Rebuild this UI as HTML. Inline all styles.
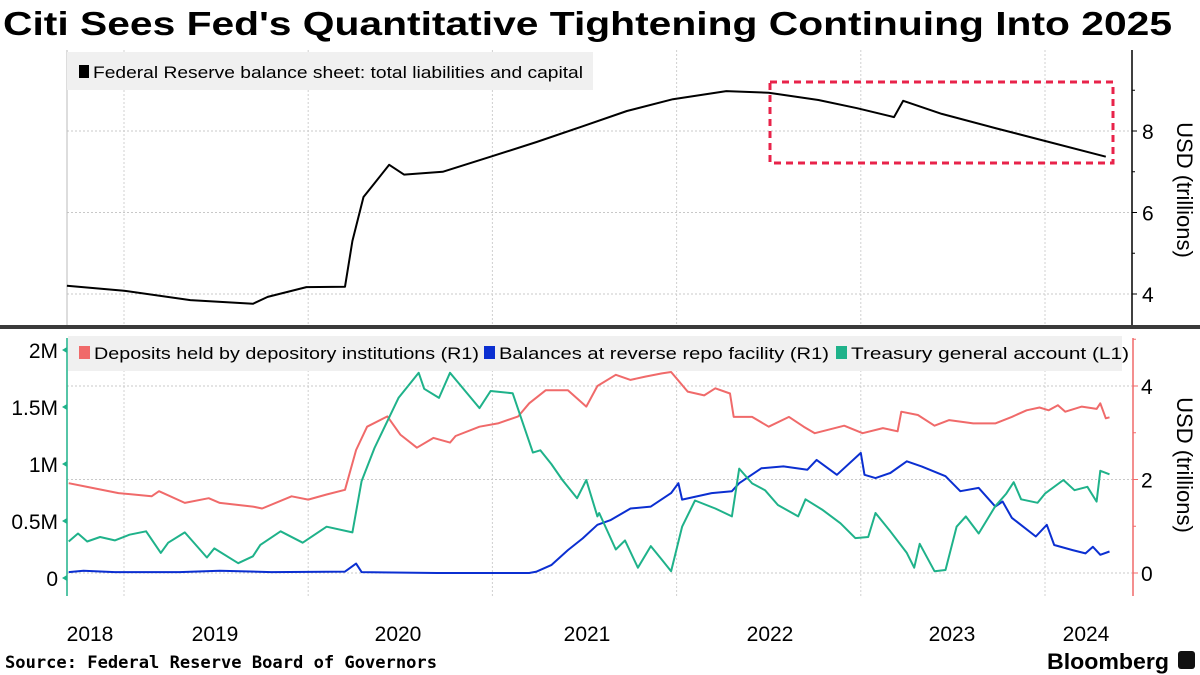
<!DOCTYPE html>
<html><head><meta charset="utf-8"><style>
html,body{margin:0;padding:0;background:#fff;}
svg{display:block;font-family:"Liberation Sans","DejaVu Sans",sans-serif;}
</style></head><body>
<svg id="chart" width="1200" height="675" viewBox="0 0 1200 675" xmlns="http://www.w3.org/2000/svg">
<rect x="0" y="0" width="1200" height="675" fill="#fff"/>
<text x="3" y="35" font-size="33" font-weight="bold" textLength="1169" lengthAdjust="spacingAndGlyphs">Citi Sees Fed's Quantitative Tightening Continuing Into 2025</text>
<g id="topPanel"></g>
<g id="botPanel"></g>
<rect x="0" y="325" width="1200" height="4" fill="#3a3a3a"/>
<text x="5" y="668" font-size="17" font-weight="bold" font-family="DejaVu Sans Mono, Liberation Mono, monospace" textLength="432" lengthAdjust="spacingAndGlyphs">Source: Federal Reserve Board of Governors</text>
<text x="1047" y="669" font-size="22" font-weight="bold" textLength="122" lengthAdjust="spacingAndGlyphs">Bloomberg</text>
<rect x="1178" y="651" width="17" height="18" rx="3" fill="#111"/>
</svg>
<script>
// ---- data ----
const balT = [2018.69,2019.0,2019.36,2019.7,2019.78,2019.99,2020.2,2020.24,2020.3,2020.36,2020.44,2020.52,2020.73,2020.99,2021.24,2021.48,2021.73,2021.98,2022.27,2022.5,2022.77,2022.98,2023.18,2023.23,2023.44,2023.73,2023.98,2024.33];
const balV = [4.2,4.08,3.85,3.76,3.93,4.17,4.18,5.3,6.38,6.72,7.17,6.93,7.0,7.37,7.73,8.1,8.49,8.78,8.98,8.94,8.76,8.56,8.34,8.74,8.42,8.07,7.78,7.37];

const tgaT = [2018.70,2018.75,2018.8,2018.87,2018.95,2019.03,2019.12,2019.2,2019.24,2019.33,2019.45,2019.49,2019.62,2019.7,2019.74,2019.85,2019.97,2020.1,2020.24,2020.29,2020.36,2020.49,2020.6,2020.63,2020.71,2020.77,2020.93,2020.99,2021.11,2021.22,2021.26,2021.32,2021.38,2021.46,2021.51,2021.57,2021.58,2021.67,2021.72,2021.79,2021.86,2021.92,2021.97,2022.03,2022.1,2022.21,2022.3,2022.34,2022.41,2022.48,2022.55,2022.66,2022.7,2022.79,2022.89,2022.97,2023.04,2023.08,2023.16,2023.25,2023.29,2023.32,2023.4,2023.46,2023.52,2023.57,2023.64,2023.73,2023.79,2023.83,2023.87,2023.96,2024.0,2024.1,2024.16,2024.23,2024.28,2024.3,2024.35];
const tgaV = [0.32,0.39,0.32,0.36,0.33,0.38,0.41,0.22,0.31,0.4,0.18,0.26,0.13,0.19,0.29,0.41,0.31,0.45,0.4,0.85,1.14,1.58,1.8,1.66,1.58,1.8,1.49,1.64,1.62,1.1,1.12,1.0,0.86,0.7,0.86,0.54,0.57,0.25,0.33,0.09,0.28,0.16,0.06,0.45,0.68,0.61,0.54,0.96,0.83,0.77,0.64,0.54,0.69,0.6,0.48,0.35,0.36,0.57,0.41,0.22,0.09,0.3,0.06,0.07,0.45,0.54,0.39,0.63,0.74,0.84,0.69,0.66,0.74,0.86,0.77,0.8,0.67,0.94,0.91];

const depT = [2018.70,2018.79,2018.97,2019.15,2019.19,2019.33,2019.46,2019.52,2019.7,2019.75,2019.91,2020.0,2020.1,2020.2,2020.26,2020.32,2020.43,2020.5,2020.59,2020.68,2020.77,2020.8,2020.93,2021.03,2021.14,2021.2,2021.29,2021.41,2021.51,2021.57,2021.67,2021.75,2021.83,2021.92,2021.97,2022.06,2022.15,2022.21,2022.29,2022.31,2022.41,2022.5,2022.61,2022.69,2022.75,2022.91,2023.01,2023.12,2023.2,2023.22,2023.31,2023.4,2023.48,2023.61,2023.73,2023.82,2023.9,2023.97,2024.02,2024.07,2024.11,2024.2,2024.28,2024.3,2024.33,2024.35];
const depV = [1.92,1.85,1.71,1.64,1.75,1.5,1.6,1.5,1.42,1.38,1.64,1.57,1.68,1.78,2.63,3.13,3.35,2.96,2.68,2.89,2.79,2.93,3.13,3.2,3.35,3.63,3.91,3.91,3.56,4.0,4.24,4.13,4.2,4.27,4.3,3.88,3.8,3.95,3.84,3.34,3.34,3.13,3.34,3.13,2.99,3.15,2.99,3.1,3.03,3.45,3.38,3.15,3.27,3.2,3.2,3.34,3.48,3.54,3.48,3.59,3.45,3.56,3.51,3.63,3.31,3.33];

const rrpT = [2018.70,2018.78,2018.95,2019.3,2019.52,2019.8,2020.2,2020.26,2020.29,2020.7,2021.2,2021.24,2021.32,2021.41,2021.49,2021.57,2021.64,2021.75,2021.86,2021.97,2022.01,2022.03,2022.19,2022.3,2022.34,2022.46,2022.58,2022.71,2022.76,2022.87,2023.0,2023.02,2023.08,2023.16,2023.25,2023.33,2023.46,2023.54,2023.64,2023.73,2023.77,2023.82,2023.95,2024.01,2024.05,2024.15,2024.22,2024.26,2024.3,2024.35];
const rrpV = [0.02,0.05,0.02,0.02,0.05,0.02,0.03,0.2,0.02,0.0,0.0,0.03,0.17,0.49,0.74,1.03,1.13,1.38,1.42,1.71,1.92,1.57,1.71,1.75,1.92,2.24,2.28,2.21,2.42,2.1,2.57,2.1,2.03,2.14,2.39,2.28,2.07,1.75,1.82,1.42,1.53,1.18,0.78,1.03,0.6,0.49,0.42,0.56,0.39,0.46];

const topTicks = [4,6,8];
const leftTicks = [0,0.5,1,1.5,2];
const leftLabels = ["0","0.5M","1M","1.5M","2M"];
const rightTicks = [0,2,4];
const years = [2018,2019,2020,2021,2022,2023,2024];
const yearLabelX = [90,215,398,587,770,952,1086];

// ---- scales ----
const X = t => 124 + (t - 2019) * 184.2;
const Ytop = v => 294 - (v - 4) * 40.75;
const Yl = v => 578 - v * 114;
const Yr = v => 573 - v * 46.75;

const NS = "http://www.w3.org/2000/svg";
function mk(parent, tag, attrs, text){
  const e = document.createElementNS(NS, tag);
  for (const k in attrs) e.setAttribute(k, attrs[k]);
  if (text !== undefined) e.textContent = text;
  parent.appendChild(e);
  return e;
}
function pathD(ts, vs, Y){ return ts.map((t,i)=>(i?'L':'M')+X(t).toFixed(1)+','+Y(vs[i]).toFixed(1)).join(''); }

const topG = document.getElementById('topPanel');
const botG = document.getElementById('botPanel');

// top grid
for (const v of topTicks){
  const g = mk(topG,'line',{x1:67,x2:1132,y1:Ytop(v),y2:Ytop(v),stroke:'#c8c8c8','stroke-dasharray':'2,2'});
  
  
  const tk = mk(topG,'line',{x1:1132,x2:1137,y1:Ytop(v),y2:Ytop(v),stroke:'#000'});
  
  
  const lb = mk(topG,'text',{x:1142,y:Ytop(v)+8,'font-size':21},String(v));
  
  
}
for (const v of [5,7,9]){
  const tk = mk(topG,'line',{x1:1132,x2:1135,y1:Ytop(v),y2:Ytop(v),stroke:'#000'});
  
  
}
for (let y=2019;y<=2024;y++){
  const g = mk(topG,'line',{x1:X(y),x2:X(y),y1:50,y2:325,stroke:'#d0d0d0','stroke-dasharray':'2,2'});
  
  
  const g2 = mk(botG,'line',{x1:X(y),x2:X(y),y1:338,y2:596,stroke:'#d0d0d0','stroke-dasharray':'2,2'});
  
  
}
const la = mk(topG,'line',{x1:67,x2:67,y1:50,y2:325,stroke:'#bbb'});


const ra = mk(topG,'line',{x1:1132,x2:1132,y1:50,y2:325,stroke:'#000','stroke-width':1.5});


const ttl = mk(topG,'text',{x:0,y:0,'font-size':22,transform:'translate(1177,190) rotate(90)','text-anchor':'middle'},'USD (trillions)');


const lgb = mk(topG,'rect',{x:67,y:52,width:526,height:38,fill:'#f0f0f0'});


const lgs = mk(topG,'rect',{x:79,y:65,width:10,height:13,fill:'#000'});


const lgt = mk(topG,'text',{x:93,y:78,'font-size':17,textLength:490,lengthAdjust:'spacingAndGlyphs'},'Federal Reserve balance sheet: total liabilities and capital');


const bl = mk(topG,'path',{d:pathD(balT,balV,Ytop),fill:'none',stroke:'#000','stroke-width':2,'stroke-linejoin':'round'});


const hl = mk(topG,'rect',{x:770,y:82,width:343,height:81,fill:'none',stroke:'#e8234a','stroke-width':3,'stroke-dasharray':'7,5'});



// bottom grid
for (const v of rightTicks){
  const g = mk(botG,'line',{x1:67,x2:1133,y1:Yr(v),y2:Yr(v),stroke:'#c8c8c8','stroke-dasharray':'2,2'});
  
  
  const tk = mk(botG,'line',{x1:1133,x2:1138,y1:Yr(v),y2:Yr(v),stroke:'#f06a6a'});
  
  
  const lb = mk(botG,'text',{x:1141,y:Yr(v)+8,'font-size':21},String(v));
  
  
}
for (const v of [1,3,5]){
  const tk = mk(botG,'line',{x1:1133,x2:1136,y1:Yr(v),y2:Yr(v),stroke:'#f06a6a'});
  
  
}
leftTicks.forEach((v,i)=>{
  const tk = mk(botG,'path',{d:`M67,${Yl(v)-3}L62,${Yl(v)}L67,${Yl(v)+3}Z`,fill:'#1fb28a'});
  
  
  const lb = mk(botG,'text',{x:58,y:Yl(v)+8,'font-size':21,'text-anchor':'end'},leftLabels[i]);
  
  
});
const lax = mk(botG,'line',{x1:67,x2:67,y1:338,y2:596,stroke:'#1fb28a','stroke-width':1.5});


const rax = mk(botG,'line',{x1:1133,x2:1133,y1:338,y2:596,stroke:'#f06a6a','stroke-width':1.5});


const bttl = mk(botG,'text',{x:0,y:0,'font-size':22,transform:'translate(1177,465) rotate(90)','text-anchor':'middle'},'USD (trillions)');



const blg = mk(botG,'rect',{x:68,y:336,width:1054,height:35,fill:'#f0f0f0'});


const legends = [[79,'#f06a6a','Deposits held by depository institutions (R1)',385],[484,'#0b2fd1','Balances at reverse repo facility (R1)',330],[836,'#1fb28a','Treasury general account  (L1)',278]];
legends.forEach((l,i)=>{
  const s = mk(botG,'rect',{x:l[0],y:346,width:11,height:13,fill:l[1]});
  
  
  const t = mk(botG,'text',{x:l[0]+15,y:359,'font-size':17,textLength:l[3],lengthAdjust:'spacingAndGlyphs'},l[2]);
  
  
});

const dl = mk(botG,'path',{d:pathD(depT,depV,Yr),fill:'none',stroke:'#f06a6a','stroke-width':2,'stroke-linejoin':'round'});


const rl = mk(botG,'path',{d:pathD(rrpT,rrpV,Yr),fill:'none',stroke:'#0b2fd1','stroke-width':2,'stroke-linejoin':'round'});


const gl = mk(botG,'path',{d:pathD(tgaT,tgaV,Yl),fill:'none',stroke:'#1fb28a','stroke-width':2,'stroke-linejoin':'round'});



years.forEach((y,i)=>{
  const t = mk(botG,'text',{x:yearLabelX[i],y:641,'font-size':21,'text-anchor':'middle'},String(y));
  
  
});
</script>
</body></html>
